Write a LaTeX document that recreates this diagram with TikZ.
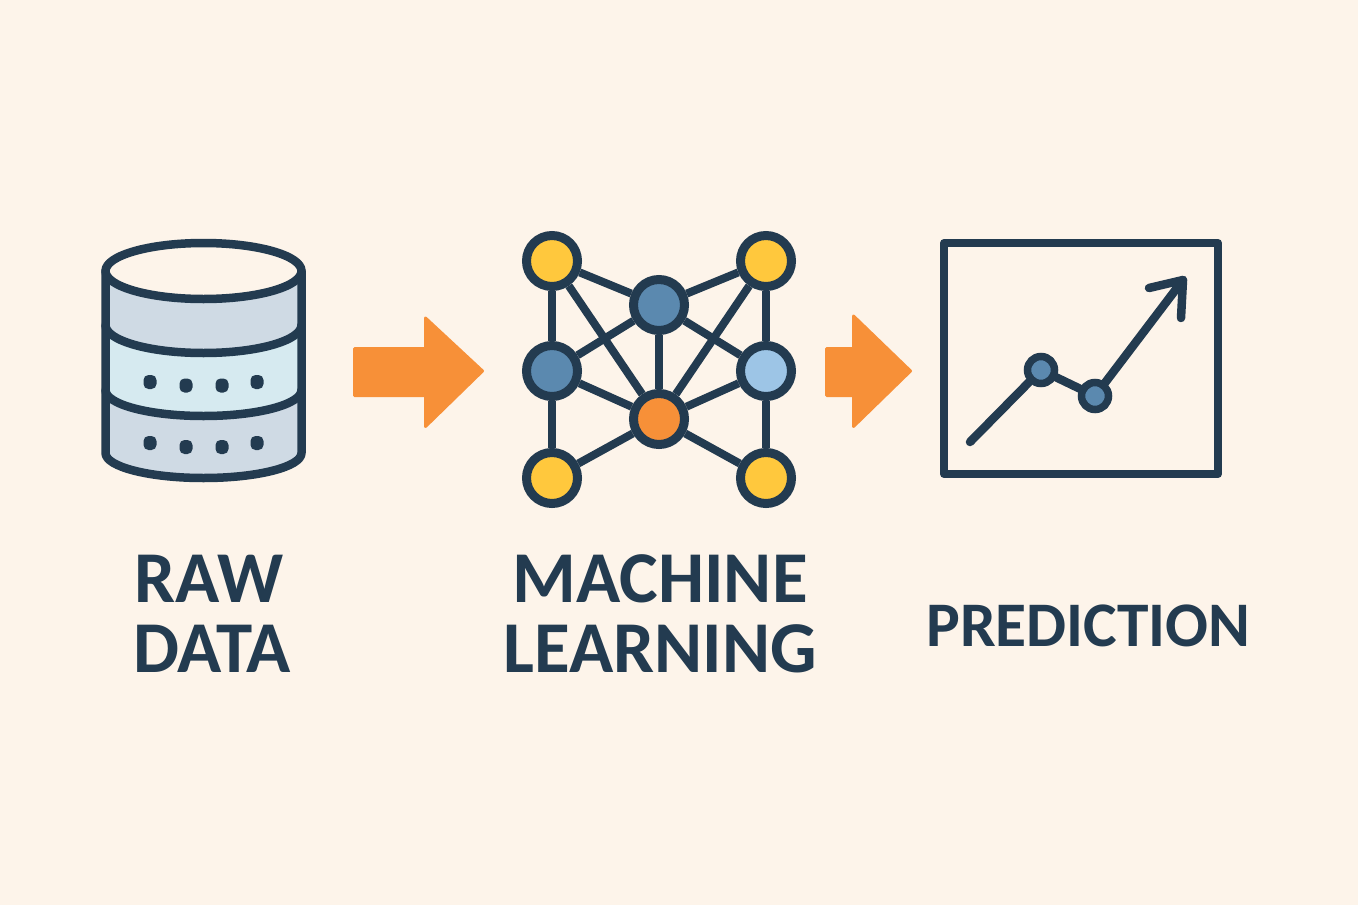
\documentclass[tikz,border=0pt]{standalone}
\usepackage{fontspec}
\setmainfont{Carlito}
\usetikzlibrary{calc}
\definecolor{bgc}{HTML}{FDF4EA}
\definecolor{ink}{HTML}{233B50}
\definecolor{slate}{HTML}{CFDAE4}
\definecolor{pale}{HTML}{D6EAF0}
\definecolor{org}{HTML}{F79038}
\definecolor{yel}{HTML}{FFC83D}
\definecolor{blu}{HTML}{5B89AF}
\definecolor{lblu}{HTML}{9DC5E6}
\tikzset{
  ln/.style={draw=ink,line width=8.5pt,line cap=round,line join=round},
  edgeln/.style={draw=ink,line width=8pt},
  nn/.style={circle,draw=ink,line width=9pt,minimum size=51pt,inner sep=0pt},
  cn/.style={circle,draw=ink,line width=7.5pt,minimum size=27pt,inner sep=0pt,fill=blu},
  arrowshape/.style={fill=org,draw=org,line width=3pt,line join=round},
  lab/.style={text=ink,font=\bfseries\fontsize{73}{80}\selectfont,inner sep=0pt,anchor=base},
}
\begin{document}
\begin{tikzpicture}[x=1pt,y=-1pt]
\useasboundingbox (0,0) rectangle (1358,905);
\fill[bgc] (0,0) rectangle (1358,905);
% cylinder
\fill[slate] (105.5,271) -- (105.5,453) arc[start angle=180,end angle=0,x radius=98,y radius=25] -- (301.5,271) -- cycle;
\fill[pale] (105.5,325) arc[start angle=180,end angle=0,x radius=98,y radius=28] -- (301.5,390) arc[start angle=0,end angle=180,x radius=98,y radius=26] -- cycle;
\draw[ln] (105.5,271) -- (105.5,453) arc[start angle=180,end angle=0,x radius=98,y radius=25] -- (301.5,271);
\draw[ln,fill=bgc] (203.5,271) ellipse[x radius=98,y radius=28];
\draw[ln] (105.5,325) arc[start angle=180,end angle=0,x radius=98,y radius=28];
\draw[ln] (105.5,390) arc[start angle=180,end angle=0,x radius=98,y radius=26];
\foreach \x/\y in {150/382,186/385.5,222/385.5,257/382,150/443,186/447,222/447,257/443}
  \fill[ink,rounded corners=5pt] (\x-6.5,\y-7) rectangle (\x+6.5,\y+7);
% arrows
\path[arrowshape] (354.5,348.5) -- (425.5,348.5) -- (425.5,318) -- (482.5,371) -- (425.5,426.5) -- (425.5,395.5) -- (354.5,395.5) -- cycle;
\path[arrowshape] (826.5,348.5) -- (853.5,348.5) -- (853.5,316) -- (910.5,371) -- (853.5,426.5) -- (853.5,395.5) -- (826.5,395.5) -- cycle;
% network
\node[nn,fill=yel] (tl) at (552,261) {};
\node[nn,fill=yel] (tr) at (766,261) {};
\node[nn,fill=blu] (ml) at (552,371) {};
\node[nn,fill=lblu] (mr) at (766,371) {};
\node[nn,fill=yel] (bl) at (552,478) {};
\node[nn,fill=yel] (br) at (766,478) {};
\node[nn,fill=blu] (tc) at (659,305) {};
\node[nn,fill=org] (bc) at (659,419) {};
\foreach \a/\b in {tl/ml,ml/bl,tr/mr,mr/br,tl/tc,tc/tr,tl/bc,tr/bc,tc/bc,ml/tc,tc/mr,ml/bc,mr/bc,bl/bc,br/bc}
  \draw[edgeln] (\a) -- (\b);
% chart
\draw[draw=ink,line width=8pt,line join=round] (944,243) rectangle (1218,474);
\coordinate (cs) at (970,442);
\coordinate (ct) at (1183,280);
\coordinate (ca) at (1149,288);
\coordinate (cb) at (1181,318);
\node[cn] (c1) at (1041,370) {};
\node[cn] (c2) at (1095,396) {};
\draw[ln] (cs) -- (c1);
\draw[ln] (c1) -- (c2);
\draw[ln] (c2) -- (ct);
\draw[ln] (ca) -- (ct) -- (cb);
% labels
\node[lab] (l1) at (209,602) {RAW};
\node[lab] (l2) at (212,672) {DATA};
\node[lab] (l3) at (660,602) {MACHINE};
\node[lab] (l4) at (660,672) {LEARNING};
\node[lab,font=\bfseries\fontsize{63.5}{70}\selectfont] (l5) at (1088.5,646) {PREDICTION};
\end{tikzpicture}
\end{document}
